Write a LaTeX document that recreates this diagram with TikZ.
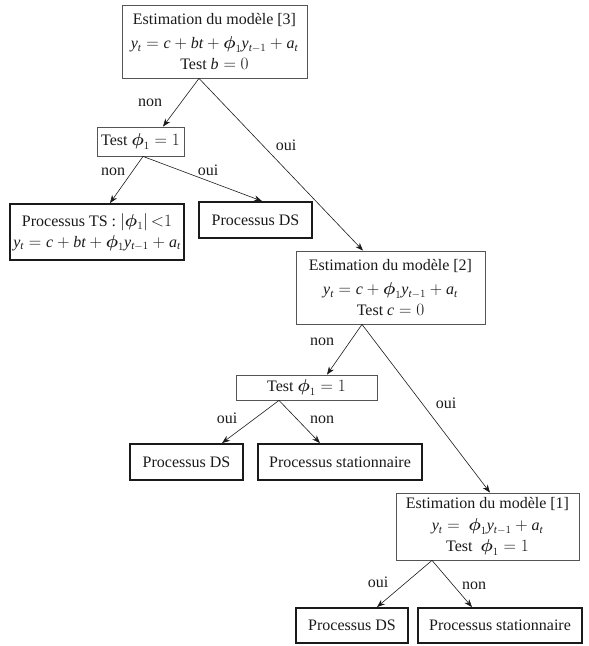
\documentclass[tikz,border=0pt]{standalone}
\usepackage{amsmath}
\usepackage{fontspec}
\setmainfont{Liberation Serif}
\usepackage{tikz}
\usepackage{xcolor}
\usetikzlibrary{arrows.meta,positioning,calc}
% Times-like letters and digits in the formulas
\DeclareSymbolFont{tletters}{TU}{\rmdefault}{m}{it}
\DeclareSymbolFont{troman}{TU}{\rmdefault}{m}{n}
\DeclareMathSymbol{a}{\mathalpha}{tletters}{`a}
\DeclareMathSymbol{b}{\mathalpha}{tletters}{`b}
\DeclareMathSymbol{c}{\mathalpha}{tletters}{`c}
\DeclareMathSymbol{t}{\mathalpha}{tletters}{`t}
\DeclareMathSymbol{y}{\mathalpha}{tletters}{`y}
\DeclareMathSymbol{0}{\mathalpha}{troman}{`0}
\DeclareMathSymbol{1}{\mathalpha}{troman}{`1}
\DeclareMathSymbol{=}{\mathrel}{troman}{`=}
\DeclareMathSymbol{+}{\mathbin}{troman}{`+}
\newcommand{\vphi}{\boldsymbol{\phi}}
\definecolor{Ink}{HTML}{1A1A1A}
\definecolor{Frame}{HTML}{555555}
\tikzset{
  box/.style={draw=Frame,line width=0.8pt,fill=white,align=center,text=Ink,inner sep=0pt},
  result/.style={draw=Ink,line width=1.8pt,fill=white,align=center,text=Ink,inner sep=0pt},
  lbl/.style={text=Ink,inner sep=1pt},
  arr/.style={-{Stealth[length=8pt,width=6pt]},draw=Ink,line width=0.6pt}
}

\begin{document}
\begin{tikzpicture}[x=1pt,y=-1pt,font=\fontsize{16}{21}\selectfont]
  \useasboundingbox (0,0) rectangle (589,646);
  % model [3]
  \node[box,minimum width=185pt,minimum height=73pt] (est3) at (214.5,41.5) {
    Estimation du modèle [3]\\[3pt]
    $y_t = c + bt + \vphi_1 y_{t-1} + a_t$\\
    Test $b = 0$
  };
  \node[box,minimum width=87pt,minimum height=29pt] (test1) at (140.5,141.5) {Test $\vphi_1 = 1$};
  \node[result,minimum width=174pt,minimum height=56pt] (ts) at (97,232) {
    Processus TS : $\left|\vphi_1\right| {<} 1$\\
    $y_t = c + bt + \vphi_1 y_{t-1} + a_t$
  };
  \node[result,minimum width=113pt,minimum height=36pt] (ds1) at (255.5,220) {Processus DS};
  % model [2]
  \node[box,minimum width=189pt,minimum height=73pt] (est2) at (390.5,287.5) {
    Estimation du modèle [2]\\[3pt]
    $y_t = c + \vphi_1 y_{t-1} + a_t$\\
    Test $c = 0$
  };
  \node[box,minimum width=141pt,minimum height=25pt] (test2) at (306.5,387.5) {Test $\vphi_1 = 1$};
  \node[result,minimum width=113pt,minimum height=36pt] (ds2) at (186.5,462) {Processus DS};
  \node[result,minimum width=164pt,minimum height=36pt] (st2) at (340,462) {Processus stationnaire};
  % model [1]
  \node[box,minimum width=183pt,minimum height=67pt] (est1) at (487.5,526.5) {
    Estimation du modèle [1]\\[1pt]
    $y_t = ~\vphi_1 y_{t-1} + a_t$\\
    Test ~$\vphi_1 = 1$
  };
  \node[result,minimum width=112pt,minimum height=35pt] (ds3) at (352,625.5) {Processus DS};
  \node[result,minimum width=164pt,minimum height=35pt] (st3) at (500,625.5) {Processus stationnaire};

  % branches
  \draw[arr] ([xshift=-15.5pt]est3.south) -- ([xshift=22.5pt]test1.north);
  \draw[arr] ([xshift=-15.5pt]est3.south) -- ([xshift=-27.5pt]est2.north);
  \draw[arr] ([xshift=2.5pt]test1.south) -- ([xshift=13pt]ts.north);
  \draw[arr] ([xshift=2.5pt]test1.south) -- ([xshift=6.5pt]ds1.north);
  \draw[arr] ([xshift=-28.5pt]est2.south) -- ([xshift=20.5pt]test2.north);
  \draw[arr] ([xshift=-28.5pt]est2.south) -- ([xshift=2.5pt]est1.north);
  \draw[arr] ([xshift=-27.5pt]test2.south) -- ([xshift=35.5pt]ds2.north);
  \draw[arr] ([xshift=-27.5pt]test2.south) -- ([xshift=-20pt]st2.north);
  \draw[arr] ([xshift=-55.5pt]est1.south) -- ([xshift=25pt]ds3.north);
  \draw[arr] ([xshift=-55.5pt]est1.south) -- ([xshift=-28pt]st3.north);

  % labels
  \node[lbl] (n3) at (150,103) {non};
  \node[lbl] (o3) at (286,145) {oui};
  \node[lbl] (n1a) at (113,172) {non};
  \node[lbl] (o1a) at (208,170) {oui};
  \node[lbl] (n2) at (322,342) {non};
  \node[lbl] (o2) at (446,403) {oui};
  \node[lbl] (o1b) at (227,418) {oui};
  \node[lbl] (n1b) at (322,420) {non};
  \node[lbl] (o1c) at (378,582) {oui};
  \node[lbl] (n1c) at (474,586) {non};
\end{tikzpicture}
\end{document}
